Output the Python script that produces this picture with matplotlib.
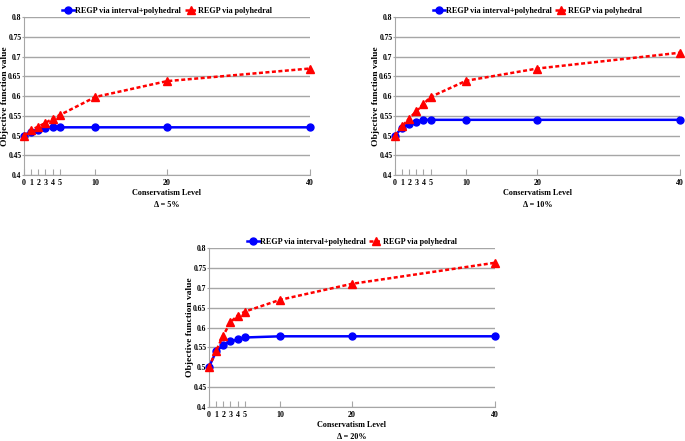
import matplotlib
matplotlib.use("Agg")
import matplotlib.pyplot as plt
from matplotlib.transforms import offset_copy

plt.rcParams['font.family'] = ['Liberation Serif', 'DejaVu Serif']

levels = [0, 1, 2, 3, 4, 5, 10, 20, 40]
yticks = [0.4, 0.45, 0.5, 0.55, 0.6, 0.65, 0.7, 0.75, 0.8]
ytick_labels = ["0.4", "0.45", "0.5", "0.55", "0.6", "0.65", "0.7", "0.75", "0.8"]

interval_5 = [0.50, 0.510, 0.515, 0.520, 0.521, 0.521, 0.521, 0.521, 0.521]
poly_5 = [0.50, 0.514, 0.523, 0.532, 0.543, 0.552, 0.598, 0.638, 0.670]
interval_10 = [0.50, 0.520, 0.530, 0.535, 0.540, 0.540, 0.540, 0.540, 0.540]
poly_10 = [0.50, 0.524, 0.543, 0.562, 0.580, 0.598, 0.639, 0.670, 0.710]
interval_20 = [0.50, 0.540, 0.556, 0.565, 0.570, 0.575, 0.578, 0.578, 0.578]
poly_20 = [0.50, 0.541, 0.580, 0.613, 0.630, 0.640, 0.670, 0.710, 0.763]

deltas = ["\u0394 = 5%", "\u0394 = 10%", "\u0394 = 20%"]
label_a = "REGP via interval+polyhedral"
label_b = "REGP via polyhedral"

fig = plt.figure(figsize=(6.85, 4.41), dpi=100)
positions = [
    [0.035, 0.603, 0.4175, 0.358],
    [0.5766, 0.603, 0.416, 0.358],
    [0.305, 0.077, 0.4175, 0.3605],
]
series = [(interval_5, poly_5), (interval_10, poly_10), (interval_20, poly_20)]

fs = 5.9
tick_fs = 5.5
ylab_fs = 6.8
grey = '#a6a6a6'

for pos, (blue, red), dlabel in zip(positions, series, deltas):
    ax = fig.add_axes(pos)
    ax.plot(levels, blue, color='#0000ff', lw=1.8, marker='o', ms=5,
            label=label_a, clip_on=False, zorder=3)
    ax.plot(levels, red, color='#ff0000', lw=1.8, ls=(0, (1.6, 1.0)), marker='^', ms=5.5,
            label=label_b, clip_on=False, zorder=4)
    ax.set_xlim(0, 40)
    ax.set_ylim(0.4, 0.8)
    ax.set_xticks(levels)
    ax.set_xticklabels([str(v) for v in levels], fontsize=tick_fs + 0.3, fontweight='bold')
    ax.set_yticks(yticks)
    ax.set_yticklabels(ytick_labels, fontsize=tick_fs, fontweight='bold')
    ax.yaxis.grid(True, color=grey, lw=1.0)
    ax.set_axisbelow(True)
    for s in ['top', 'right']:
        ax.spines[s].set_visible(False)
    for s in ['left', 'bottom']:
        ax.spines[s].set_color(grey)
    ax.tick_params(axis='x', direction='in', length=4, color=grey, pad=2.5)
    ax.tick_params(axis='y', direction='out', length=1.5, color=grey, pad=0.3)

    tr_y = offset_copy(ax.transAxes, fig=fig, x=-19.3, y=0, units='dots')
    ax.text(0, 0.5, "Objective function value", transform=tr_y, rotation=90,
            ha='center', va='center', fontsize=ylab_fs, fontweight='bold')
    tr_x1 = offset_copy(ax.transAxes, fig=fig, x=0, y=-18, units='dots')
    ax.text(0.5, 0, "Conservatism Level", transform=tr_x1, ha='center', va='center',
            fontsize=fs, fontweight='bold')
    tr_x2 = offset_copy(ax.transAxes, fig=fig, x=0, y=-30, units='dots')
    ax.text(0.5, 0, dlabel, transform=tr_x2, ha='center', va='center',
            fontsize=fs, fontweight='bold')

    ax.legend(loc='lower center', bbox_to_anchor=(0.5, 1.0), ncol=2, frameon=False,
              prop={'weight': 'bold', 'size': fs}, handlelength=1.5,
              handletextpad=0.1, columnspacing=0.4, borderpad=0.1, borderaxespad=0.2)

fig.savefig("out.png", dpi=100)
